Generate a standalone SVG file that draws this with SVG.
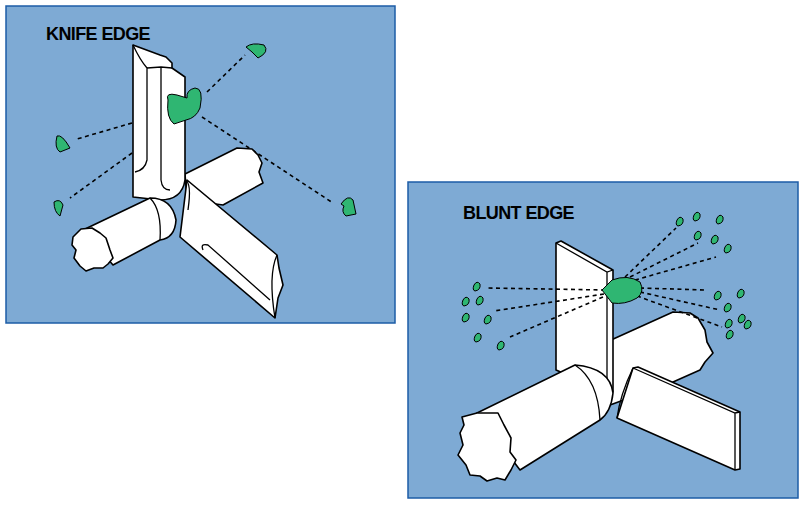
<svg xmlns="http://www.w3.org/2000/svg" width="805" height="506" viewBox="0 0 805 506">
<style>
.panel{fill:#7eaad4;stroke:#1d5ca6;stroke-width:1.5}
.w{fill:#fff;stroke:#000;stroke-width:1.6;stroke-linejoin:round}
.l{fill:none;stroke:#000;stroke-width:1.3}
.d{fill:none;stroke:#000;stroke-width:1.6;stroke-dasharray:4 3.5}
.g{fill:#2fb672;stroke:#000;stroke-width:1}
.t{font-family:"Liberation Sans",Arial,sans-serif;font-weight:bold;font-size:18px;fill:#000;letter-spacing:-0.6px}
</style>
<defs>
<path id="sp" d="M-3,-2 Q0,-7 3,-3 Q4,3 -2,4 Q-5,3 -3,-2 Z"/>
</defs>
<rect class="panel" x="6" y="6" width="389" height="317"/>
<rect class="panel" x="408" y="182" width="390" height="316"/>
<text class="t" x="46" y="40">KNIFE EDGE</text>
<text class="t" x="463" y="219">BLUNT EDGE</text>

<g id="knife">
<path class="d" d="M132,123 L77,139"/>
<path class="d" d="M132,153 L70,198"/>
<path class="d" d="M207,92 L245,55"/>
<path class="d" d="M202,117 L333,203"/>
<path class="w" d="M185,174 L237,148 L252,149 L258,155 L262,163 L259,172 L263,183 L223,205 L187,200 Z"/>
<path class="w" d="M187,180 L277,255 L279,268 L283,285 L278,298 L275,318 L180,237 Z"/>
<path class="l" d="M203,250 Q200,243 208,245 L270,300"/>
<path class="l" d="M277,255 Q268,275 275,318"/>
<path class="w" d="M133,45 L160,55 L166,57 L172,63 L172,68 L185,77 L185,180 Q182,200 160,200 L133,197 Z"/>
<path class="l" d="M133,45 Q140,60 147,68 L147,160 Q145,170 135,172"/>
<path class="l" d="M147,68 L161,67 L172,68 M161,67 L161,180 Q162,190 170,190"/>
<path class="l" d="M185,180 Q192,182 188,210"/>
<path class="w" d="M83,230 L150,198 Q172,198 176,220 Q175,238 160,240 L113,265 Z"/>
<path class="l" d="M150,198 Q162,210 160,240"/>
<path class="w" d="M73,237 L81,229 L92,228 L100,233 L106,238 L110,250 L113,258 L108,264 L103,268 L94,268 L86,271 L80,266 L74,258 L76,250 L72,245 Z"/>
<path class="g" d="M168,100 Q165,92 177,95 L187,98 Q186,90 195,88 Q204,88 200,108 Q196,118 186,120 L174,124 Q166,118 168,100 Z"/>
<path class="g" d="M246,47 Q252,42 264,45 Q270,52 258,58 L252,52 Z"/>
<path class="g" d="M57,136 Q62,134 70,148 L60,152 Q54,148 57,136 Z"/>
<path class="g" d="M54,202 Q60,198 63,205 L60,216 Q54,212 54,202 Z"/>
<path class="g" d="M341,204 Q348,194 353,200 L356,214 L346,216 Q341,212 344,206 Z"/>
</g>

<g id="blunt">
<path class="w" d="M600,345 L673,312 L690,313 L698,318 L705,330 L707,342 L713,353 L705,362 L700,370 L673,382 L610,405 Z"/>
<path class="w" d="M556,243 L561,241 L613,270 L613,392 L607,392 L556,370 Z"/>
<path class="l" d="M556,243 L607,272 L613,270 M607,272 L607,392"/>
<path class="w" d="M633,368 L638,367 L740,412 L740,469 L735,470 L617,418 Z"/>
<path class="l" d="M633,368 Q620,395 617,418 M633,368 L735,413 L740,412 M735,413 L735,470"/>
<path class="w" d="M477,413 L575,365 Q610,368 613,393 Q611,412 600,420 L520,470 Z"/>
<path class="l" d="M575,365 Q598,380 600,420"/>
<path class="w" d="M462,417 L477,413 L498,413 L504,425 L511,438 L510,452 L516,460 L511,470 L505,480 L497,478 L487,481 L480,476 L470,475 L466,465 L458,455 L463,445 L460,433 L464,425 Z"/>
<g class="d">
<path d="M605,290 L488,288"/><path d="M604,294 L494,311"/><path d="M603,297 L510,337"/>
<path d="M625,277 L676,228"/><path d="M630,277 L698,243"/><path d="M635,280 L716,257"/>
<path d="M640,288 L705,290"/><path d="M640,292 L720,310"/><path d="M637,296 L722,327"/>
</g>
<path class="g" d="M602,290 L612,280 Q628,274 640,282 Q645,292 637,298 Q625,305 612,303 Z"/>
<g class="g">
<use href="#sp" x="477" y="287"/><use href="#sp" x="466" y="302"/><use href="#sp" x="480" y="301"/>
<use href="#sp" x="466" y="318"/><use href="#sp" x="488" y="320"/><use href="#sp" x="478" y="338"/><use href="#sp" x="501" y="346"/>
<use href="#sp" x="680" y="222"/><use href="#sp" x="697" y="217"/><use href="#sp" x="720" y="220"/>
<use href="#sp" x="698" y="236"/><use href="#sp" x="715" y="240"/><use href="#sp" x="728" y="249"/>
<use href="#sp" x="718" y="296"/><use href="#sp" x="741" y="294"/><use href="#sp" x="728" y="308"/>
<use href="#sp" x="742" y="319"/><use href="#sp" x="729" y="324"/><use href="#sp" x="748" y="325"/><use href="#sp" x="730" y="335"/>
</g>
</g>
</svg>
